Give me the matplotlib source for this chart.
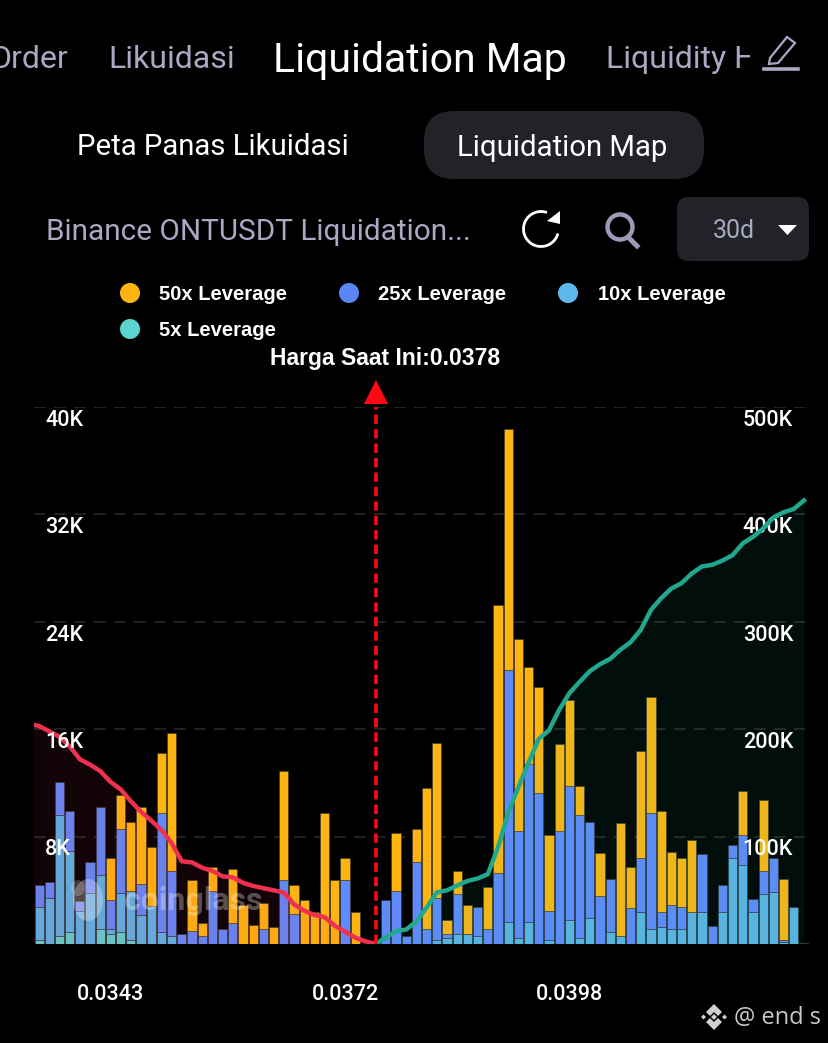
# ==========================
# Liquidation map screenshot
# ==========================

import numpy as np
import matplotlib
matplotlib.use("Agg")
import matplotlib.pyplot as plt
from matplotlib.patches import Arc, Circle, Ellipse, FancyBboxPatch, Polygon, Rectangle
from matplotlib.transforms import ScaledTranslation

plt.rcParams["font.family"] = ["Roboto", "DejaVu Sans"]

# ==========================
# Data (K)
# ==========================

lev5 = [0.30, 0, 0.60, 0.92, 0, 0, 1.09, 0.72, 0.92, 0.30,
        0, 0, 0, 0, 0, 0, 0, 0, 0, 0,
        0, 0, 0, 0, 0, 0, 0, 0, 0, 0,
        0, 0, 0, 0, 0, 0, 0, 0, 0, 0,
        0, 0, 0, 0, 0, 0, 0, 0, 0, 0,
        0, 0, 0, 0, 0, 0, 0, 0, 0, 0,
        0, 0, 0, 0, 0, 0, 0, 0, 0, 0,
        0, 0, 0, 0, 0, 0]

lev10 = [2.48, 3.43, 9.02, 6.01, 2.46, 3.83, 4.05, 0.37, 2.91, 3.65,
         2.14, 2.83, 0.92, 0.60, 0, 0, 0, 0, 0, 0,
         0, 0, 0, 0, 0, 0, 0, 0, 0, 0,
         0, 0, 0, 0, 0, 0, 0, 0, 0, 0.30,
         0.47, 0.77, 0.77, 0.60, 0, 0, 1.66, 0.45, 1.66, 0,
         0.30, 0, 1.81, 0.45, 1.94, 0, 0.92, 0.57, 0, 2.41,
         1.09, 1.27, 1.09, 1.09, 2.41, 2.41, 0, 2.41, 6.38, 5.89,
         2.41, 3.73, 3.90, 0.17, 2.73, 0.05]

lev25 = [1.64, 1.17, 2.48, 2.98, 0.75, 2.26, 5.09, 2.19, 4.77, 0,
         2.31, 0, 8.87, 4.84, 0.77, 0.97, 0.60, 3.95, 1.09, 1.59,
         0, 0, 1.09, 0, 4.77, 2.24, 0, 0, 0, 0,
         4.77, 0, 0, 0, 3.28, 3.95, 0.60, 6.11, 1.14, 3.11,
         0.30, 2.98, 0, 2.19, 1.12, 5.32, 18.75, 8.00, 11.77, 11.28,
         2.19, 8.45, 9.96, 9.17, 7.15, 3.60, 3.95, 0, 2.71, 3.97,
         8.64, 1.14, 1.79, 1.64, 0, 4.30, 1.37, 1.96, 0.99, 2.21,
         0.97, 1.69, 2.48, 0.10, 0, 0]

lev50 = [0, 0, 0, 0, 0, 0, 0, 3.13, 2.48, 5.14,
         5.79, 4.42, 4.47, 10.31, 0, 3.78, 0.99, 1.79, 0, 4.00,
         2.91, 1.42, 1.99, 1.27, 8.15, 2.19, 3.25, 2.41, 9.74, 4.74,
         1.64, 2.41, 0, 0, 0, 4.30, 0, 2.48, 10.46, 11.53,
         0.99, 1.66, 2.16, 0, 3.15, 19.90, 17.96, 14.28, 7.20, 7.87,
         5.64, 6.48, 6.41, 2.14, 0, 3.15, 0, 8.47, 3.01, 8.00,
         8.64, 7.48, 4.00, 3.65, 5.32, 0, 0, 0, 0, 3.28,
         0, 5.29, 0, 4.60, 0, 0]

# cumulative lines, right axis (K)
short_idx = list(range(-1, 34))
short_cum = [205, 203, 198, 193, 184, 172, 167, 161, 151, 144,
             133, 123, 115, 106, 94, 77, 76, 71, 68, 63,
             62, 57, 54, 52, 50, 48, 37, 31, 27, 25,
             17, 11.5, 6, 2.5, 0]

long_idx = list(range(33, 76))
long_cum = [0, 6, 12, 13.5, 21, 34, 48, 50, 54.5, 58.7,
            61, 65, 90, 122, 146, 169, 191, 199, 218, 233.5,
            244, 254, 260.5, 265.5, 274, 281, 292.5, 311, 322, 331,
            336, 345, 351.5, 353, 357, 362, 373, 379, 387, 397,
            402, 405, 413]

current_idx = 33
left_ticks = [0, 8, 16, 24, 32, 40]
left_labels = ["", "8K", "16K", "24K", "32K", "40K"]
right_ticks = [0, 100, 200, 300, 400, 500]
right_labels = ["", "100K", "200K", "300K", "400K", "500K"]
x_ticks = [7, 30, 52]
x_labels = ["0.0343", "0.0372", "0.0398"]

ORANGE = "#ffb511"
BLUE = "#6089fb"
LIGHT = "#5cb3e6"
TEAL = "#5fd0cc"
MUTED = "#a9a9c4"

W, H = 829, 1043
fig = plt.figure(figsize=(W / 100, H / 100), dpi=100, facecolor="black")

# plot area in pixels: x 34-809, y 407-944
rect = [34 / W, 1 - 944 / H, 775 / W, 537 / H]

# ==========================
# Bars
# ==========================

x = np.arange(len(lev5))
ax = fig.add_axes(rect, facecolor="black")
ax.hlines(left_ticks[1:], -0.5, 75.1, color="#282828", lw=1.2, linestyles=(0, (7, 5)), zorder=0.5)

bottom = np.zeros(len(x))
for vals, col in [(lev5, TEAL), (lev10, LIGHT), (lev25, BLUE), (lev50, ORANGE)]:
    ax.bar(x, vals, width=0.9, bottom=bottom, color=col, edgecolor="#33333388", linewidth=0.7)
    bottom = bottom + np.array(vals)

ax.set_xlim(-0.5, 75.5)
ax.set_ylim(0, 40)
ax.set_yticks([])
ax.set_xticks(x_ticks)
ax.set_xticklabels(x_labels, color="white", fontsize=15.5, fontweight="medium")
ax.tick_params(axis="x", length=0, pad=29)
for s in ax.spines.values():
    s.set_visible(False)

# ==========================
# Cumulative lines
# ==========================

ax2 = ax.twinx()
ax2.fill_between(short_idx, short_cum, color="#f0304f", alpha=0.08, lw=0)
ax2.fill_between(long_idx, long_cum, color="#21c7a8", alpha=0.07, lw=0)
ax2.plot(short_idx, short_cum, color="#f0304f", lw=3.2, solid_joinstyle="round")
ax2.plot(long_idx, long_cum, color="#21a78e", lw=3.2, solid_joinstyle="round")
ax2.axvline(current_idx, color="#ff0a14", lw=2.6, dashes=(2.6, 1.4))
ax2.plot([current_idx], [514], marker="^", ms=17, color="#ff0a14", mew=0, clip_on=False, zorder=5)
ax2.set_xlim(-0.5, 75.5)
ax2.set_ylim(0, 500)
ax2.set_yticks(right_ticks)
ax2.set_yticklabels(right_labels, color="white", fontsize=15.5, fontweight="medium", va="top", ha="right")
ax2.tick_params(axis="y", length=0, pad=-11.5, right=False, labelright=True)
for s in ax2.spines.values():
    s.set_visible(False)

# left labels go on their own axes so they stay above the lines
ax3 = ax.twinx()
ax3.set_ylim(0, 40)
ax3.yaxis.tick_left()
ax3.set_yticks(left_ticks)
ax3.set_yticklabels(left_labels, color="white", fontsize=15.5, fontweight="medium", va="top", ha="left")
ax3.tick_params(axis="y", length=0, pad=-8)
ax3.patch.set_visible(False)
for s in ax3.spines.values():
    s.set_visible(False)

# labels sit a little under their grid lines
nudge = ScaledTranslation(0, -2 / 72, fig.dpi_scale_trans)
for lbl in ax2.get_yticklabels() + ax3.get_yticklabels():
    lbl.set_transform(lbl.get_transform() + nudge)

# ==========================
# App chrome, in pixel coordinates
# ==========================

ui = fig.add_axes([0, 0, 1, 1], facecolor="none")
ui.set_xlim(0, W)
ui.set_ylim(H, 0)
ui.axis("off")

# watermark
ui.add_patch(Ellipse((88, 900), 30, 42, color="white", alpha=0.28, lw=0))
ui.add_patch(Ellipse((78, 888), 14, 16, color="white", alpha=0.2, lw=0))
ui.text(124, 901, "coinglass", color="white", alpha=0.3, fontsize=23, fontweight="bold", va="center")

# top tabs
ui.text(68, 59, "Order", color=MUTED, fontsize=23, ha="right", va="center")
ui.text(108, 59, "Likuidasi", color=MUTED, fontsize=23, va="center")
ui.text(273, 60, "Liquidation Map", color="white", fontsize=29.5, va="center")
tab = ui.text(606, 59, "Liquidity Heatmap", color=MUTED, fontsize=23, va="center", clip_on=True)
tab.set_clip_path(Rectangle((600, 20), 150, 70, transform=ui.transData))

# pencil icon
ui.add_patch(Polygon([[770, 58], [787, 37], [795, 43], [778, 63], [769, 64]], closed=True,
                     fill=False, edgecolor=MUTED, lw=1.6))
ui.plot([764, 798], [68.5, 68.5], color=MUTED, lw=2.6)

# second row
ui.text(77, 147, "Peta Panas Likuidasi", color="white", fontsize=21.2, va="center")
ui.add_patch(FancyBboxPatch((424, 111), 280, 68, boxstyle="round,pad=0,rounding_size=30",
                            fc="#222328", ec="none"))
ui.text(457, 148, "Liquidation Map", color="white", fontsize=21.2, va="center")

# third row
ui.text(46, 232, "Binance ONTUSDT Liquidation...", color=MUTED, fontsize=21.4, va="center")
ui.add_patch(Arc((541, 229), 35, 35, theta1=15, theta2=290, color="white", lw=2.0))
ui.add_patch(Polygon([[560, 211], [560, 224], [547, 221]], closed=True, color="white", lw=0))
ui.add_patch(Circle((620, 227), 12.5, fill=False, edgecolor="#9b9bb6", lw=3.2))
ui.plot([628, 637], [237, 246], color="#9b9bb6", lw=3.6)
ui.add_patch(FancyBboxPatch((677, 197), 132, 64, boxstyle="round,pad=0,rounding_size=12",
                            fc="#222328", ec="none"))
ui.text(713, 231, "30d", color=MUTED, fontsize=18, va="center")
ui.add_patch(Polygon([[778, 225], [797, 225], [787.5, 235]], closed=True, color="white", lw=0))

# legend
legend_items = [(130, 293, 159, "50x Leverage", ORANGE), (349, 293, 378, "25x Leverage", "#5b86f5"),
                (568, 293, 598, "10x Leverage", "#5fb8ec"), (130, 329, 159, "5x Leverage", "#5bd3cf")]
for cx, cy, tx, name, col in legend_items:
    ui.add_patch(Circle((cx, cy), 10, color=col, lw=0))
    ui.text(tx, cy + 2, name, color="white", fontsize=14.5, fontweight="bold",
            family=["Liberation Sans"], va="center")

ui.text(270, 358, "Harga Saat Ini:0.0378", color="white", fontsize=16.5, fontweight="bold",
        family=["Liberation Sans"], va="center")

# footer, the small diamond logo
logo_c = "#d0d0d0"
ui.add_patch(Polygon([[714, 1004], [722, 1012], [718, 1016], [714, 1012], [710, 1016], [706, 1012]],
                     closed=True, color=logo_c, lw=0))
ui.add_patch(Polygon([[714, 1030], [722, 1022], [718, 1018], [714, 1022], [710, 1018], [706, 1022]],
                     closed=True, color=logo_c, lw=0))
for cx, r in [(703.5, 2.5), (714, 3), (724.5, 2.5)]:
    ui.add_patch(Polygon([[cx - r, 1017], [cx, 1017 - r], [cx + r, 1017], [cx, 1017 + r]],
                         closed=True, color=logo_c, lw=0))
ui.text(734, 1018, "@ end s", color="#c8c8c8", fontsize=17, family=["Open Sans"], va="center")

fig.savefig("out.png", dpi=100, facecolor="black")
